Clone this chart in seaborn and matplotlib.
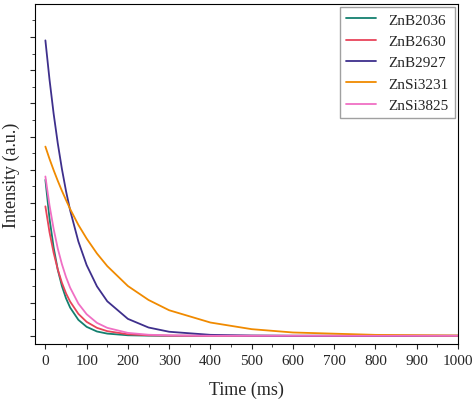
import numpy as np
import pandas as pd
import matplotlib
matplotlib.use('Agg')
import matplotlib.pyplot as plt
import seaborn as sns

# values (intensity, a.u.)
time_ms = [0, 10, 20, 30, 40, 50, 60, 80, 100, 125, 150, 200, 250, 300, 400, 500, 600, 800, 1000]
znb2036 = [.47, .353, .266, .199, .150, .113, .085, .048, .027, .013, .0066, .0016, .0004, 0, 0, 0, 0, 0, 0]
znb2630 = [.39, .312, .250, .200, .160, .128, .103, .066, .042, .024, .014, .0046, .0015, .0005, 0, 0, 0, 0, 0]
znb2927 = [.89, .772, .669, .580, .503, .436, .378, .284, .213, .149, .104, .051, .025, .0122, .0029, .0007, 0, 0, 0]
znsi3231 = [.57, .533, .499, .467, .437, .409, .382, .334, .293, .248, .210, .150, .108, .077, .040, .020, .010, .0028, .0007]
znsi3825 = [.48, .393, .322, .263, .216, .177, .145, .097, .065, .039, .024, .0088, .0032, .0012, 0, 0, 0, 0, 0]

series = {'ZnB2036': znb2036, 'ZnB2630': znb2630, 'ZnB2927': znb2927,
          'ZnSi3231': znsi3231, 'ZnSi3825': znsi3825}
colors = ['#14806f', '#e8445a', '#3e2f8c', '#f08a00', '#f06fc4']

df = pd.DataFrame(series)
df['Time'] = time_ms
long_df = df.melt(id_vars='Time', var_name='Sample', value_name='Intensity')

sns.set_style('ticks')
plt.rcParams['font.family'] = ['Liberation Serif', 'DejaVu Serif']

fig = plt.figure(figsize=(4.74, 4.06), dpi=100)
ax = fig.add_axes([0.074, 0.150, 0.892, 0.838])
sns.lineplot(data=long_df, x='Time', y='Intensity', hue='Sample', palette=colors,
             linewidth=1.3, ax=ax)

ax.set_xlim(-25, 1000)
ax.set_ylim(-0.025, 1.0)
ax.set_xticks(range(0, 1001, 100))
ax.set_yticks(np.arange(0, 1.0, 0.1))
ax.set_yticks(np.arange(0, 1.0, 0.05), minor=True)
ax.set_yticklabels([])
ax.set_xticks(range(50, 1000, 100), minor=True)
ax.tick_params(direction='out', labelsize=11)
for s in ax.spines.values():
    s.set_visible(True)
    s.set_color('black')
ax.set_xlabel('Time (ms)', fontsize=13, labelpad=10)
ax.set_ylabel('Intensity (a.u.)', fontsize=13)
leg = ax.legend(loc='upper right', fontsize=11, frameon=True, fancybox=False,
                edgecolor='#888888', handlelength=2.0, borderaxespad=0.2)
leg.set_title(None)

fig.savefig('out.png', dpi=100)
